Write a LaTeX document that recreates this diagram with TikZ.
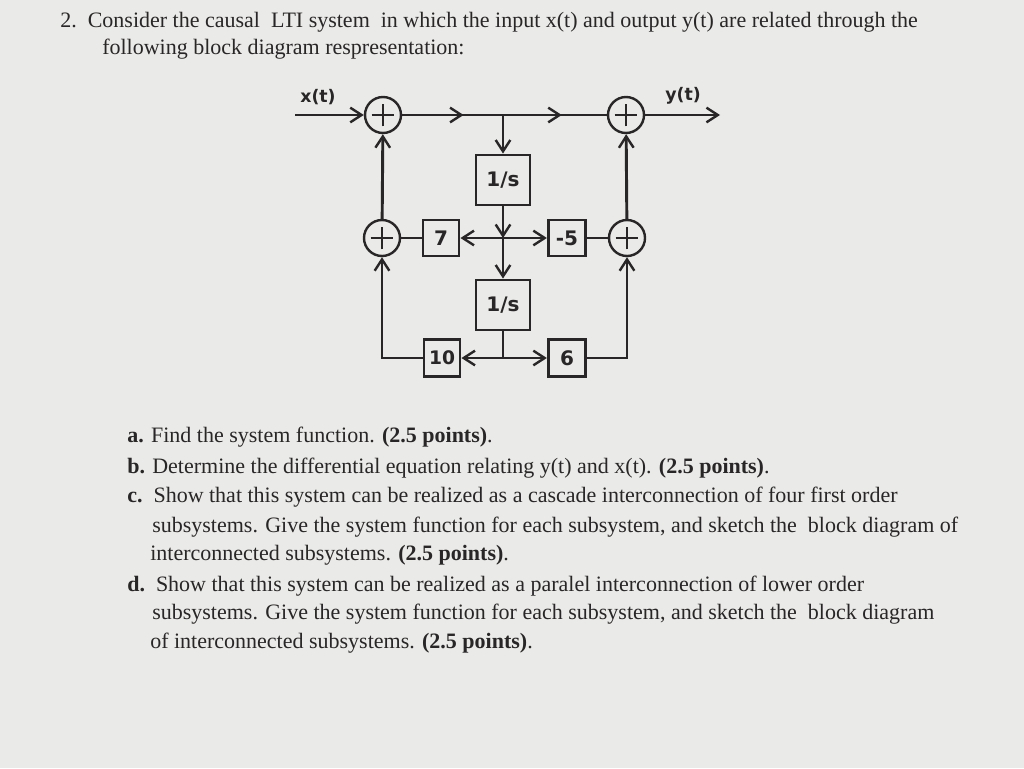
\documentclass[tikz,border=0pt]{standalone}
\usepackage{fontspec}
\setmainfont{Liberation Serif}
\newfontfamily\dfont{DejaVu Sans}
\usetikzlibrary{arrows.meta,decorations.markings}
\definecolor{ink}{RGB}{40,38,38}
\definecolor{paper}{RGB}{234,234,232}
\begin{document}
\begin{tikzpicture}[x=0.75pt,y=-0.75pt,
  txt/.style={anchor=west,inner sep=0pt,font=\fontsize{16.5pt}{19pt}\selectfont,text=ink},
  sumnode/.style={circle,draw=ink,line width=1.8pt,minimum size=27pt,inner sep=0pt,
     path picture={\draw[ink,line width=2.2pt] ([xshift=-8.5pt]path picture bounding box.center) -- ([xshift=8.5pt]path picture bounding box.center);
                   \draw[ink,line width=2.2pt] ([yshift=-8.5pt]path picture bounding box.center) -- ([yshift=8.5pt]path picture bounding box.center);}},
  blk/.style={draw=ink,line width=2.2pt,fill=paper,inner sep=0pt,font=\dfont\bfseries\fontsize{15pt}{17pt}\selectfont,text=ink},
  ln/.style={draw=ink,line width=2.2pt},
  arr/.style={ln,-{Straight Barb[length=8.5pt,width=11pt,line width=1.8pt]}},
  midarrow/.style={postaction={decorate,decoration={markings,mark=at position #1 with {\arrow[ink,line width=1.8pt]{Straight Barb[length=8.5pt,width=11pt]}}}}}]
\fill[paper] (0,0) rectangle (1024,768);
% text
\node[txt] at (60,22) {2.\ \ Consider the causal\ \ LTI system\ \ in which the input x(t) and output y(t) are related through the};
\node[txt] at (102,49) {following block diagram respresentation:};
% diagram
\node[sumnode] (s1) at (383,115) {};
\node[sumnode] (s2) at (626,115) {};
\node[sumnode] (s3) at (382,238) {};
\node[sumnode] (s4) at (627,238) {};
\node[blk,minimum width=40.5pt,minimum height=37.5pt] (i1) at (503,180) {1/s};
\node[blk,minimum width=40.5pt,minimum height=37.5pt] (i2) at (503,305) {1/s};
\node[blk,minimum width=27pt,minimum height=27pt] (g7) at (441,238) {7};
\node[blk,minimum width=28pt,minimum height=27pt] (g5) at (567,238) {-5};
\node[blk,minimum width=27pt,minimum height=28pt,font=\dfont\bfseries\fontsize{14pt}{16pt}\selectfont] (g10) at (442,358) {10};
\node[blk,minimum width=28pt,minimum height=28pt] (g6) at (567,358) {6};
\coordinate (xin) at (295,115);
\coordinate (yout) at (720,115);
\coordinate (ja) at (503,115);
\coordinate (jb) at (503,238);
\coordinate (jc) at (503,358);
\coordinate (bl) at (382,358);
\coordinate (br) at (627,358);
\node[font=\dfont\bfseries\fontsize{13pt}{15pt}\selectfont,text=ink] (xl) at (318,97) {x(t)};
\node[font=\dfont\bfseries\fontsize{13pt}{15pt}\selectfont,text=ink] (yl) at (683,96) {y(t)};
\draw[arr] (xin) -- (s1);
\draw[ln,midarrow=0.3,midarrow=0.78] (s1) -- (s2);
\draw[arr] (s2) -- (yout);
\draw[arr] (ja) -- (i1);
\draw[arr] (i1) -- (jb);
\draw[arr] (jb) -- (g7);
\draw[arr] (jb) -- (g5);
\draw[arr] (jb) -- (i2);
\draw[ln] (g7) -- (s3);
\draw[ln] (g5) -- (s4);
\draw[ln] (i2) -- (jc);
\draw[arr] (jc) -- (g10);
\draw[arr] (jc) -- (g6);
\draw[arr] (g10) -- (bl) -- (s3);
\draw[arr] (g6) -- (br) -- (s4);
\draw[arr] (s3) -- (s1);
\draw[arr] (s4) -- (s2);
% questions
\node[txt] at (127,437) {\textbf{a.} Find the system function. \textbf{(2.5 points)}.};
\node[txt] at (127,468) {\textbf{b.} Determine the differential equation relating y(t) and x(t). \textbf{(2.5 points)}.};
\node[txt] at (127,497) {\textbf{c.}\ \ Show that this system can be realized as a cascade interconnection of four first order};
\node[txt] at (152,527) {subsystems. Give the system function for each subsystem, and sketch the\ \ block diagram of};
\node[txt] at (150,555) {interconnected subsystems. \textbf{(2.5 points)}.};
\node[txt] at (127,586) {\textbf{d.}\ \ Show that this system can be realized as a paralel interconnection of lower order};
\node[txt] at (152,614) {subsystems. Give the system function for each subsystem, and sketch the\ \ block diagram};
\node[txt] at (150,643) {of interconnected subsystems. \textbf{(2.5 points)}.};
\end{tikzpicture}
\end{document}
